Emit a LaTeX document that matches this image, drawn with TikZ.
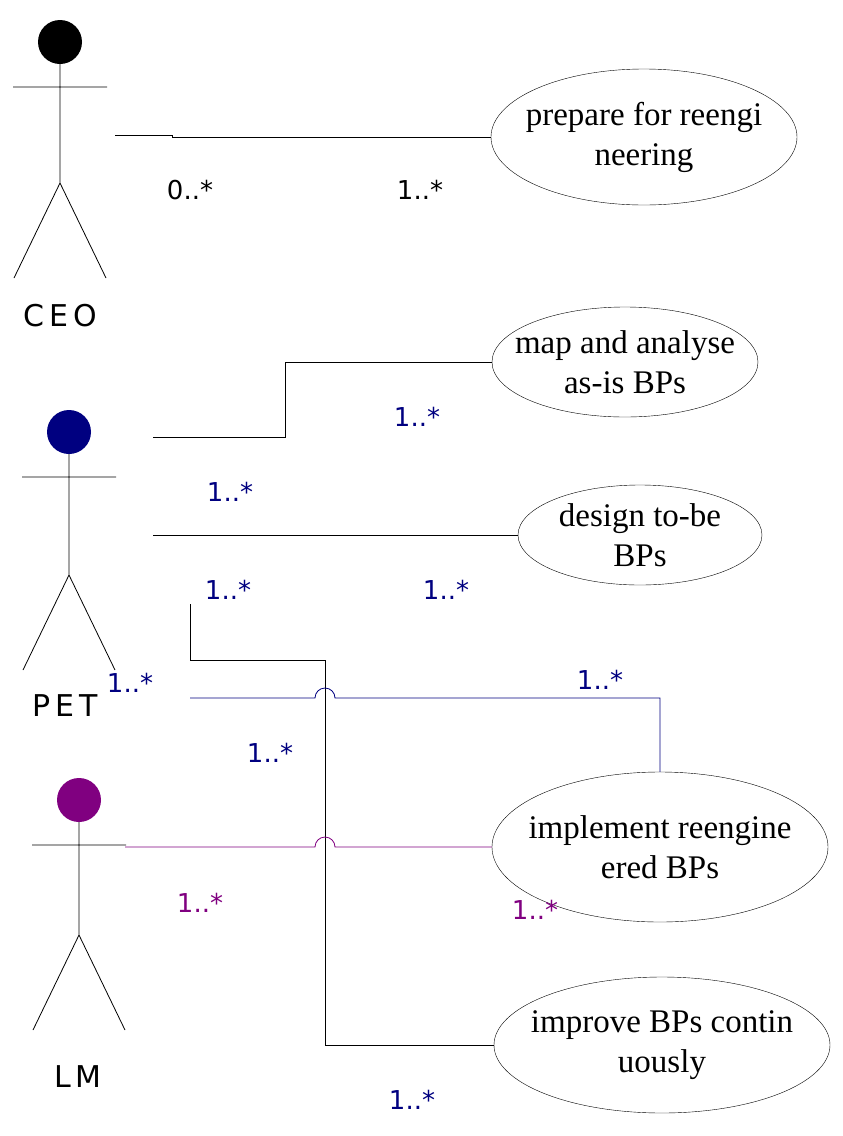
\documentclass[tikz,border=0pt]{standalone}
\usepackage{fontspec}
\setmainfont{Liberation Serif}
\newfontfamily\lblfont{DejaVu Sans}
\usetikzlibrary{shapes.geometric}
\definecolor{navyc}{RGB}{0,0,128}
\definecolor{purp}{RGB}{128,0,128}
\begin{document}
\begin{tikzpicture}[x=1pt,y=-1pt,
  uc/.style={draw,ellipse,minimum width=#1,inner sep=0pt},
  uctxt/.style={align=center,font=\fontsize{33}{40}\selectfont,inner sep=0pt},
  lbl/.style={font=\lblfont\fontsize{26}{30}\selectfont},
  act/.style={font=\lblfont\fontsize{30}{34}\selectfont},
  wire/.style={line width=0.8pt}]
\useasboundingbox (0,0) rectangle (843,1136);
% actors
\newcommand\actor[4]{% x, ytop, color, legsY
  \fill[#3] (#1,#2) circle (22);
  \draw[wire] (#1,#2+22) -- (#1,#2+#4) (#1-47,#2+45) -- (#1+47,#2+45)
    (#1,#2+#4) -- (#1-46,#2+#4+95) (#1,#2+#4) -- (#1+46,#2+#4+95);}
\actor{60}{42}{black}{141}
\actor{69}{432}{navyc}{143}
\actor{79}{800}{purp}{135}
\node[act] (ceo) at (60,316) {C\,E\,O};
\node[act] (pet) at (65,706) {P\,E\,T};
\node[act] (lm) at (78,1077) {L\,M};
% use cases
\node[uc=306pt,minimum height=136pt] (u1) at (644,137) {};
\node[uctxt] (t1) at (u1) {prepare for reengi\\neering};
\node[uc=266pt,minimum height=110pt] (u2) at (625,362) {};
\node[uctxt] (t2) at (u2) {map and analyse\\as-is BPs};
\node[uc=244pt,minimum height=100pt] (u3) at (640,535) {};
\node[uctxt] (t3) at (u3) {design to-be\\BPs};
\node[uc=336pt,minimum height=150pt] (u4) at (660,847) {};
\node[uctxt] (t4) at (u4) {implement reengine\\ered BPs};
\node[uc=336pt,minimum height=136pt] (u5) at (662,1045) {};
\node[uctxt] (t5) at (u5) {improve BPs contin\\uously};
\coordinate (c1) at (115,135);
\coordinate (p1) at (153,437);
\coordinate (p2) at (153,535);
\coordinate (p3) at (190,604);
\coordinate (p4) at (190,698);
\coordinate (l1) at (125,847);
% connectors
\draw[wire] (c1) -- (172,135) -- (172,137) -- (u1.west);
\draw[wire] (p1) -- (285,437) -- (285,362) -- (u2.west);
\draw[wire] (p2) -- (u3.west);
\draw[wire] (p3) -- (190,660) -- (325,660) -- (325,1045) -- (u5.west);
\draw[wire,navyc] (p4) -- (315,698) arc (180:360:10) -- (660,698) -- (u4.north);
\draw[wire,purp] (l1) -- (315,847) arc (180:360:10) -- (u4.west);
% multiplicities
\node[lbl] at (190,190) {0..*};
\node[lbl] at (420,190) {1..*};
\node[lbl,navyc] at (417,417) {1..*};
\node[lbl,navyc] at (230,492) {1..*};
\node[lbl,navyc] at (228,590) {1..*};
\node[lbl,navyc] at (446,590) {1..*};
\node[lbl,navyc] at (130,683) {1..*};
\node[lbl,navyc] at (600,680) {1..*};
\node[lbl,navyc] at (270,753) {1..*};
\node[lbl,navyc] at (412,1100) {1..*};
\node[lbl,purp] at (200,903) {1..*};
\node[lbl,purp] at (535,910) {1..*};
\end{tikzpicture}
\end{document}
